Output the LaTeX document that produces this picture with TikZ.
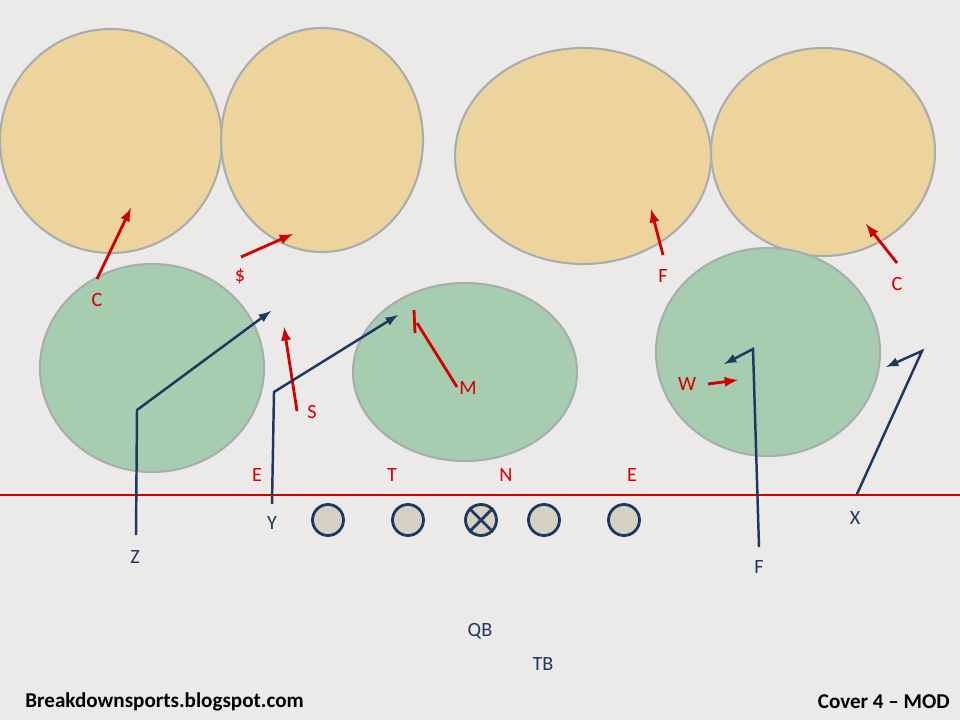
\documentclass[tikz,border=0pt]{standalone}
\usepackage{fontspec}
\setmainfont{Carlito}
\usetikzlibrary{shapes,arrows,positioning,calc}
\definecolor{fieldgray}{RGB}{236,234,232}
\definecolor{deepyellow}{RGB}{237,212,156}
\definecolor{undergreen}{RGB}{166,205,176}
\definecolor{zoneline}{RGB}{168,174,174}
\definecolor{defred}{RGB}{210,0,0}
\definecolor{offblue}{RGB}{31,56,96}
\definecolor{olfill}{RGB}{214,209,196}

\begin{document}
\begin{tikzpicture}[
    x=0.2mm, y=-0.2mm,
    deepzone/.style={ellipse, draw=zoneline, line width=1.2pt, fill=deepyellow, inner sep=0pt},
    underzone/.style={ellipse, draw=zoneline, line width=1.2pt, fill=undergreen, inner sep=0pt},
    lineman/.style={circle, draw=offblue, line width=1.6pt, fill=olfill, minimum size=6.2mm, inner sep=0pt},
    dlabel/.style={text=defred, font=\fontsize{11.5}{13}\selectfont, inner sep=1pt},
    olabel/.style={text=offblue, font=\fontsize{11.5}{13}\selectfont, inner sep=1pt},
    drop/.style={-latex, defred, line width=1.6pt},
    route/.style={-latex, offblue, line width=1.4pt}
]
    % field
    \fill[fieldgray] (0,0) rectangle (960,720);
    \useasboundingbox (0,0) rectangle (960,720);

    % deep quarters
    \node[deepzone, minimum width=44.4mm, minimum height=44.8mm] (deepL) at (111,141) {};
    \node[deepzone, minimum width=40.4mm, minimum height=44.8mm] (deepLM) at (322,140) {};
    \node[deepzone, minimum width=51.2mm, minimum height=43.2mm] (deepRM) at (583,156) {};
    \node[deepzone, minimum width=44.8mm, minimum height=41.6mm] (deepR) at (823,152) {};

    % underneath zones
    \node[underzone, minimum width=44.8mm, minimum height=41.6mm] (curlL) at (152,368) {};
    \node[underzone, minimum width=44.8mm, minimum height=35.6mm] (hook) at (465,372) {};
    \node[underzone, minimum width=44.8mm, minimum height=41.6mm] (curlR) at (768,352) {};

    % line of scrimmage
    \coordinate (losL) at (0,495);
    \coordinate (losR) at (960,495);
    \draw[defred, line width=1.7pt] (losL) -- (losR);

    % offensive line
    \node[lineman] (LT) at (328,520) {};
    \node[lineman] (LG) at (408,520) {};
    \node[lineman] (C)  at (481,520) {};
    \node[lineman] (RG) at (544,520) {};
    \node[lineman] (RT) at (624,520) {};
    \draw[offblue, line width=1.6pt] (C.north east) -- (C.south west);
    \draw[offblue, line width=1.6pt] (C.north west) -- (C.south east);

    % defenders
    \node[dlabel] (cbL) at (97,300) {C};
    \node[dlabel] (ss) at (240,276) {\$};
    \node[dlabel] (sam) at (312,412) {S};
    \node[dlabel] (mike) at (468,388) {M};
    \node[dlabel] (fs) at (663,276) {F};
    \node[dlabel] (cbR) at (897,284) {C};
    \node[dlabel] (will) at (687,384) {W};
    \node[dlabel] (deL) at (257,475) {E};
    \node[dlabel] (dt) at (392,475) {T};
    \node[dlabel] (nt) at (506,475) {N};
    \node[dlabel] (deR) at (632,475) {E};

    % drops
    \coordinate (cbLs) at (97,279);   \coordinate (cbLe) at (131,208);
    \coordinate (sss) at (241,257);   \coordinate (sse) at (293,234);
    \coordinate (sams) at (297,411);  \coordinate (same) at (284,327);
    \coordinate (mikes) at (457,387); \coordinate (mikee) at (417,323);
    \coordinate (ticktop) at (414,310); \coordinate (tickbot) at (415,333);
    \coordinate (fss) at (663,255);   \coordinate (fse) at (651,209);
    \coordinate (cbRs) at (897,263);  \coordinate (cbRe) at (866,224);
    \coordinate (wills) at (708,384); \coordinate (wille) at (738,380);
    \draw[drop] (cbLs) -- (cbLe);
    \draw[drop] (sss) -- (sse);
    \draw[drop] (sams) -- (same);
    \draw[defred, line width=1.6pt] (mikes) -- (mikee);
    \draw[defred, line width=1.6pt] (ticktop) -- (tickbot);
    \draw[drop] (fss) -- (fse);
    \draw[drop] (cbRs) -- (cbRe);
    \draw[drop] (wills) -- (wille);

    % offense
    \node[olabel] (Z) at (135,557) {Z};
    \node[olabel] (Y) at (272,523) {Y};
    \node[olabel] (F) at (759,567) {F};
    \node[olabel] (X) at (855,518) {X};
    \node[olabel] (QB) at (480,631) {QB};
    \node[olabel] (TB) at (543,664) {TB};

    % routes
    \coordinate (zs) at (136,535); \coordinate (zb) at (137,410); \coordinate (ze) at (271,311);
    \coordinate (ys) at (272,504); \coordinate (yb) at (274,392); \coordinate (ye) at (398,315);
    \coordinate (fs0) at (759,547); \coordinate (fb) at (753,349); \coordinate (fe) at (724,364);
    \coordinate (xs) at (857,494); \coordinate (xb) at (922,351); \coordinate (xe) at (886,367);
    \draw[route] (zs) -- (zb) -- (ze);
    \draw[route] (ys) -- (yb) -- (ye);
    \draw[route] (fs0) -- (fb) -- (fe);
    \draw[route] (xs) -- (xb) -- (xe);

    % footer
    \node[anchor=west, font=\fontsize{12}{14}\selectfont\bfseries, inner sep=0pt] (blog) at (25,702) {Breakdownsports.blogspot.com};
    \node[anchor=east, font=\fontsize{12}{14}\selectfont\bfseries, inner sep=0pt] (title) at (950,702) {Cover 4 -- MOD};
\end{tikzpicture}
\end{document}
